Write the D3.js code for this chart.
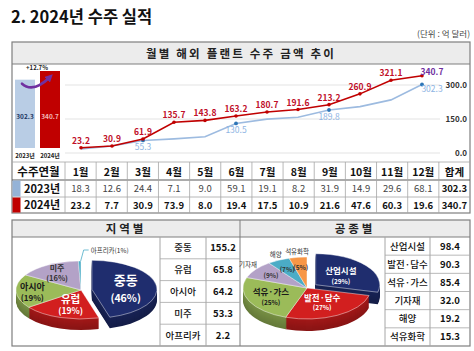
<!DOCTYPE html>
<html>
<head>
<meta charset="utf-8">
<script src="https://cdn.jsdelivr.net/npm/d3@7"></script>
<style>
body { margin: 0; background: #fff; }
svg { display: block; font-family: "Noto Sans CJK KR", "Noto Sans", sans-serif; }
</style>
</head>
<body>
<div id="chart"></div>
<script>
// monthly orders (억 달러)
const months = ["1월", "2월", "3월", "4월", "5월", "6월", "7월", "8월", "9월", "10월", "11월", "12월"];
const orders2023 = [18.3, 12.6, 24.4, 7.1, 9.0, 59.1, 19.1, 8.2, 31.9, 14.9, 29.6, 68.1];
const orders2024 = [23.2, 7.7, 30.9, 73.9, 8.0, 19.4, 17.5, 10.9, 21.6, 47.6, 60.3, 19.6];
const total2023 = 302.3;
const total2024 = 340.7;
const growth = "+12.7%";
// cumulative lines
const cum2023 = [18.3, 30.9, 55.3, 62.4, 71.4, 130.5, 149.6, 157.8, 189.8, 204.7, 234.3, 302.3];
const cum2024 = [23.2, 30.9, 61.9, 135.7, 143.8, 163.2, 180.7, 191.6, 213.2, 260.9, 321.1, 340.7];
const labeled2023 = ["3월", "6월", "9월", "12월"];
const yTicks = [0, 150, 300];

const regions = ["중동", "유럽", "아시아", "미주", "아프리카"];
const regionValues = [155.2, 65.8, 64.2, 53.3, 2.2];
const regionShares = [46, 19, 19, 16, 1];

const sectors = ["산업시설", "발전·담수", "석유·가스", "기자재", "해양", "석유화학"];
const sectorValues = [98.4, 90.3, 85.4, 32.0, 19.2, 15.3];
const sectorShares = [29, 27, 25, 9, 7, 5];

const W = 474, H = 351;
const RED = "#c00000", BLUE = "#95b3d7";

const svg = d3.select("#chart").append("svg")
    .attr("width", W).attr("height", H);

// page title
svg.append("text").attr("x", 11).attr("y", 23)
    .attr("font-size", 16.5).attr("font-weight", 700).attr("fill", "#111")
    .text("2. 2024년 수주 실적");
svg.append("text").attr("x", 470).attr("y", 37).attr("text-anchor", "end")
    .attr("font-size", 8.5).attr("fill", "#444")
    .text("(단위 : 억 달러)");

// ---------- top box ----------
svg.append("rect").attr("x", 12).attr("y", 42).attr("width", 458).attr("height", 22)
    .attr("fill", "#ececec");
svg.append("rect").attr("x", 12).attr("y", 42).attr("width", 458).attr("height", 171)
    .attr("fill", "none").attr("stroke", "#7f7f7f").attr("stroke-width", 1.2);
svg.append("line").attr("x1", 12).attr("x2", 470).attr("y1", 64).attr("y2", 64)
    .attr("stroke", "#7f7f7f");
svg.append("text").attr("x", 241).attr("y", 58).attr("text-anchor", "middle")
    .attr("font-size", 11.5).attr("font-weight", 700).attr("letter-spacing", 2.2).attr("fill", "#222")
    .text("월별 해외 플랜트 수주 금액 추이");

// small total bars
const yb = d3.scaleLinear().domain([0, total2024]).range([148, 71]);
const bx = d3.scaleBand().domain(["2023년", "2024년"]).range([15, 60]).paddingInner(0.2);
const bars = [["2023년", total2023, "#b9cde5", "#1f3864"], ["2024년", total2024, RED, "#f2b8b8"]];
svg.selectAll(".tbar").data(bars).enter().append("rect")
    .attr("x", d => bx(d[0])).attr("y", d => yb(d[1]))
    .attr("width", bx.bandwidth()).attr("height", d => yb(0) - yb(d[1]))
    .attr("fill", d => d[2]);
svg.selectAll(".tval").data(bars).enter().append("text")
    .attr("x", d => bx(d[0]) + bx.bandwidth() / 2).attr("y", 119)
    .attr("text-anchor", "middle").attr("font-size", 6.5).attr("font-weight", 700)
    .attr("fill", d => d[3]).text(d => d[1].toFixed(1));
svg.selectAll(".tlab").data(bars).enter().append("text")
    .attr("x", d => bx(d[0]) + bx.bandwidth() / 2).attr("y", 157.5)
    .attr("text-anchor", "middle").attr("font-size", 6).attr("font-weight", 700).attr("fill", "#222")
    .text(d => d[0]);
svg.append("text").attr("x", 37).attr("y", 70).attr("text-anchor", "middle")
    .attr("font-size", 6).attr("font-weight", 700).attr("fill", "#222").text(growth);
svg.append("defs").append("marker").attr("id", "ah").attr("viewBox", "0 0 10 10")
    .attr("refX", 5).attr("refY", 5).attr("markerWidth", 3).attr("markerHeight", 3)
    .attr("orient", "auto").append("path").attr("d", "M0,0L10,5L0,10z").attr("fill", "#7030a0");
const ax0 = bx("2023년") + 7;
svg.append("path")
    .attr("d", `M${ax0},${yb(total2023) + 4} Q${ax0 + 11},${yb(total2023) + 14} ${bx("2024년") + 10},${yb(total2024) + 6}`)
    .attr("fill", "none").attr("stroke", "#7030a0").attr("stroke-width", 2.6)
    .attr("stroke-linecap", "round").attr("marker-end", "url(#ah)");

// cumulative line chart
const x = d3.scalePoint().domain(months).range([81, 422]);
const y = d3.scaleLinear().domain([0, 300]).range([153, 85]);
svg.selectAll(".grid").data(yTicks).enter().append("line")
    .attr("x1", 65).attr("x2", 440).attr("y1", d => y(d)).attr("y2", d => y(d))
    .attr("stroke", "#e3e3e3").attr("stroke-width", 1);
svg.selectAll(".ytick").data(yTicks).enter().append("text")
    .attr("x", 467).attr("y", d => y(d) + 3).attr("text-anchor", "end")
    .attr("font-size", 8).attr("font-weight", 700).attr("fill", "#333")
    .text(d => d.toFixed(1));

const line = d3.line().x((d, i) => x(months[i])).y(d => y(d));
svg.append("path").datum(cum2023).attr("d", line)
    .attr("fill", "none").attr("stroke", "#9dbbe0").attr("stroke-width", 1.6);
const q2023 = cum2023.map((v, i) => [months[i], v]).filter(d => labeled2023.includes(d[0]));
svg.selectAll(".b23").data(q2023).enter().append("circle")
    .attr("cx", d => x(d[0])).attr("cy", d => y(d[1])).attr("r", 1.9).attr("fill", "#2e75b6");
svg.selectAll(".l23").data(q2023).enter().append("text")
    .attr("x", (d, i) => x(d[0]) + (i === q2023.length - 1 ? 10 : 0))
    .attr("y", (d, i) => y(d[1]) + (i === q2023.length - 1 ? 8 : 10))
    .attr("text-anchor", "middle").attr("font-size", 8.5).attr("fill", "#8eb4e3")
    .text(d => d[1].toFixed(1));

svg.append("path").datum(cum2024).attr("d", line)
    .attr("fill", "none").attr("stroke", RED).attr("stroke-width", 1.6);
svg.selectAll(".b24").data(cum2024).enter().append("circle")
    .attr("cx", (d, i) => x(months[i])).attr("cy", d => y(d)).attr("r", 1.8).attr("fill", RED);
svg.selectAll(".l24").data(cum2024).enter().append("text")
    .attr("x", (d, i) => x(months[i]) + (i === 11 ? 10 : 0))
    .attr("y", (d, i) => y(d) - (i === 11 ? 1 : 4))
    .attr("text-anchor", "middle").attr("font-size", 8.5).attr("font-weight", 700)
    .attr("fill", (d, i) => i === 11 ? "#7030a0" : "#c0102a")
    .text(d => d.toFixed(1));

// monthly table
const cols = months.concat(["합계"]);
const cx = d3.scaleBand().domain(cols).range([65, 470]);
const rowY = [162, 180, 197, 213];
const tbl = svg.append("g");
tbl.selectAll(".hl").data(rowY.slice(0, 3)).enter().append("line")
    .attr("x1", 12).attr("x2", 470).attr("y1", d => d).attr("y2", d => d)
    .attr("stroke", (d, i) => i === 1 ? "#595959" : "#a6a6a6").attr("stroke-width", (d, i) => i === 1 ? 1.2 : 0.8);
tbl.selectAll(".vl").data(cols).enter().append("line")
    .attr("x1", d => cx(d)).attr("x2", d => cx(d)).attr("y1", 162).attr("y2", 213)
    .attr("stroke", "#a6a6a6").attr("stroke-width", 0.8);
tbl.append("text").attr("x", 38.5).attr("y", 175.5).attr("text-anchor", "middle")
    .attr("font-size", 11.5).attr("font-weight", 700).attr("fill", "#111").text("수주연월");
tbl.selectAll(".mh").data(cols).enter().append("text")
    .attr("x", d => cx(d) + cx.bandwidth() / 2).attr("y", 175.5).attr("text-anchor", "middle")
    .attr("font-size", 10.5).attr("font-weight", 700).attr("fill", "#111").text(d => d);
const yearRows = [
    { label: "2023년", swatch: BLUE, vals: orders2023.concat([total2023]), weight: 400, fill: "#444" },
    { label: "2024년", swatch: RED, vals: orders2024.concat([total2024]), weight: 700, fill: "#111" }
];
yearRows.forEach((r, ri) => {
    const top = rowY[ri + 1], bot = rowY[ri + 2], mid = (top + bot) / 2 + 3.8;
    tbl.append("rect").attr("x", 12.5).attr("y", top + 0.5).attr("width", 8).attr("height", bot - top - 1)
        .attr("fill", r.swatch);
    tbl.append("text").attr("x", 42).attr("y", mid + 0.5).attr("text-anchor", "middle")
        .attr("font-size", 11).attr("font-weight", 700).attr("fill", "#111").text(r.label);
    tbl.selectAll(null).data(r.vals).enter().append("text")
        .attr("x", (d, i) => cx(cols[i]) + cx.bandwidth() / 2).attr("y", mid)
        .attr("text-anchor", "middle").attr("font-size", 9.5)
        .attr("font-weight", (d, i) => i === 12 ? 700 : r.weight)
        .attr("fill", (d, i) => i === 12 ? "#111" : r.fill)
        .text(d => d.toFixed(1));
});

// ---------- bottom panels ----------
const PT = 220, PH = 237, PB = 346;
svg.append("rect").attr("x", 12).attr("y", PT).attr("width", 458).attr("height", PH - PT).attr("fill", "#ececec");
svg.append("rect").attr("x", 12).attr("y", PT).attr("width", 458).attr("height", PB - PT)
    .attr("fill", "none").attr("stroke", "#7f7f7f").attr("stroke-width", 1.2);
svg.append("line").attr("x1", 12).attr("x2", 470).attr("y1", PH).attr("y2", PH).attr("stroke", "#7f7f7f");
svg.append("line").attr("x1", 240).attr("x2", 240).attr("y1", PT).attr("y2", PB).attr("stroke", "#7f7f7f");
svg.append("text").attr("x", 126).attr("y", 233).attr("text-anchor", "middle")
    .attr("font-size", 11.5).attr("font-weight", 700).attr("letter-spacing", 3).attr("fill", "#222").text("지역별");
svg.append("text").attr("x", 355).attr("y", 233).attr("text-anchor", "middle")
    .attr("font-size", 11.5).attr("font-weight", 700).attr("letter-spacing", 3).attr("fill", "#222").text("공종별");

function sideTable(names, values, x0, x1, x2) {
    const ry = d3.scaleBand().domain(names).range([PH, PB]);
    const g = svg.append("g");
    g.append("line").attr("x1", x0).attr("x2", x0).attr("y1", PH).attr("y2", PB).attr("stroke", "#a6a6a6");
    g.append("line").attr("x1", x1).attr("x2", x1).attr("y1", PH).attr("y2", PB).attr("stroke", "#a6a6a6");
    g.selectAll(".rl").data(names.slice(1)).enter().append("line")
        .attr("x1", x0).attr("x2", x2).attr("y1", d => ry(d)).attr("y2", d => ry(d))
        .attr("stroke", "#a6a6a6").attr("stroke-width", 0.8);
    g.selectAll(".nm").data(names).enter().append("text")
        .attr("x", (x0 + x1) / 2).attr("y", d => ry(d) + ry.bandwidth() / 2 + 3.5)
        .attr("text-anchor", "middle").attr("font-size", 9.5).attr("font-weight", 500).attr("fill", "#111").text(d => d);
    g.selectAll(".vv").data(values).enter().append("text")
        .attr("x", (x1 + x2) / 2).attr("y", (d, i) => ry(names[i]) + ry.bandwidth() / 2 + 3.5)
        .attr("text-anchor", "middle").attr("font-size", 9.5).attr("font-weight", 700).attr("fill", "#111")
        .text(d => d.toFixed(1));
}
sideTable(regions, regionValues, 160, 206, 240);
sideTable(sectors, sectorValues, 385, 430, 470);

function pie3d(names, values, shares, colors, o) {
    const k = o.ry / o.rx;
    const arcs = d3.pie().sort(null).value(d => d)(values);
    const arc = d3.arc().innerRadius(0).outerRadius(o.rx);
    const shift = (d, i) => {
        if (i !== o.explode) return [0, 0];
        const a = (d.startAngle + d.endAngle) / 2;
        return [Math.sin(a) * o.ex, -Math.cos(a) * o.ex];
    };
    const body = svg.append("g").attr("transform", `translate(${o.cx},${o.cy}) scale(1,${k})`);
    for (let dz = o.depth; dz >= 1; dz--) {
        body.selectAll(null).data(arcs).enter().append("path")
            .attr("d", arc)
            .attr("transform", (d, i) => { const s = shift(d, i); return `translate(${s[0]},${s[1] + dz / k})`; })
            .attr("fill", (d, i) => d3.color(colors[i]).darker(0.7 + 0.5 * dz / o.depth));
    }
    body.selectAll(null).data(arcs).enter().append("path")
        .attr("d", arc)
        .attr("transform", (d, i) => { const s = shift(d, i); return `translate(${s[0]},${s[1]})`; })
        .attr("fill", (d, i) => colors[i])
        .attr("stroke", "#fff").attr("stroke-width", 0.6);

    const pos = (d, i, f) => {
        const s = shift(d, i);
        const a = (d.startAngle + d.endAngle) / 2, r = o.rx * 0.5 * f;
        return [o.cx + s[0] + Math.sin(a) * r, o.cy + (s[1] - Math.cos(a) * r) * k];
    };
    arcs.forEach((d, i) => {
        const L = o.labels[i];
        const p = pos(d, i, L.f);
        if (L.out) {
            const q = pos(d, i, L.out);
            svg.append("text").attr("x", q[0]).attr("y", q[1]).attr("text-anchor", "middle")
                .attr("font-size", L.ns).attr("fill", "#333").text(names[i]);
            svg.append("text").attr("x", p[0]).attr("y", p[1] + 3).attr("text-anchor", "middle")
                .attr("font-size", L.ps).attr("font-weight", 700).attr("fill", L.c).text(`(${shares[i]}%)`);
        } else if (L.lead) {
            const e = pos(d, i, 2.0);
            const lx = e[0] + 4, ly = e[1] - 11;
            svg.append("path").attr("d", `M${e[0] + 1},${e[1]} L${lx},${ly} L${lx + 5},${ly}`)
                .attr("fill", "none").attr("stroke", "#4bacc6").attr("stroke-width", 0.8);
            svg.append("text").attr("x", lx + 7).attr("y", ly + 2.5)
                .attr("font-size", L.ns).attr("fill", "#333").text(`${names[i]}(${shares[i]}%)`);
        } else {
            const gap = L.g || 2;
            svg.append("text").attr("x", p[0]).attr("y", p[1] - gap / 2).attr("text-anchor", "middle")
                .attr("font-size", L.ns).attr("font-weight", 700).attr("fill", L.c).text(names[i]);
            svg.append("text").attr("x", p[0]).attr("y", p[1] + L.ps + gap).attr("text-anchor", "middle")
                .attr("font-size", L.ps).attr("font-weight", 700).attr("fill", L.c).text(`(${shares[i]}%)`);
        }
    });
}

pie3d(regions, regionValues, regionShares,
    ["#1f2d6e", "#d21f1f", "#9bbb59", "#b3a2c7", "#4bacc6"],
    {
        cx: 81, cy: 290, rx: 65, ry: 29, depth: 11, explode: 0, ex: 11,
        labels: [
            { f: 1.05, ns: 13, ps: 10.5, c: "#fff", g: 4 },
            { f: 1.0, ns: 10.5, ps: 8.5, c: "#fff" },
            { f: 1.5, ns: 9, ps: 8, c: "#1a1a1a" },
            { f: 1.45, ns: 8, ps: 7.5, c: "#333" },
            { lead: true, ns: 6.5 }
        ]
    });

pie3d(sectors, sectorValues, sectorShares,
    ["#1f2d6e", "#d21f1f", "#9bbb59", "#b3a2c7", "#4bacc6", "#f79646"],
    {
        cx: 307, cy: 288, rx: 64, ry: 31, depth: 12, explode: 0, ex: 11,
        labels: [
            { f: 1.0, ns: 8.5, ps: 6.5, c: "#fff" },
            { f: 1.0, ns: 8.5, ps: 6.5, c: "#fff" },
            { f: 1.25, ns: 8.5, ps: 6.5, c: "#1a1a1a" },
            { f: 1.4, out: 2.3, ns: 6.5, ps: 6.5, c: "#333" },
            { f: 1.4, out: 2.2, ns: 6.5, ps: 6.5, c: "#333" },
            { f: 1.4, out: 2.2, ns: 6.5, ps: 6.5, c: "#333" }
        ]
    });
</script>
</body>
</html>
